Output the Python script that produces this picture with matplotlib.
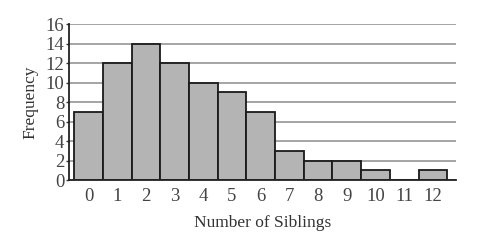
import matplotlib
matplotlib.use("Agg")
import matplotlib.pyplot as plt

siblings = [0, 1, 2, 3, 4, 5, 6, 7, 8, 9, 10, 11, 12]
frequency = [7, 12, 14, 12, 10, 9, 7, 3, 2, 2, 1, 0, 1]
y_ticks = [0, 2, 4, 6, 8, 10, 12, 14, 16]

plt.rcParams['font.family'] = ['Liberation Serif', 'DejaVu Serif']

fig = plt.figure(figsize=(4.85, 2.41), dpi=100)
ax = fig.add_axes([0.1423, 0.2531, 0.7977, 0.6473])

ax.set_axisbelow(True)
ax.yaxis.grid(True, color='#8c8c8c', linewidth=1.1)
ax.bar(siblings, frequency, width=1.0, color='#b4b4b4', edgecolor='#1a1a1a', linewidth=1.3, zorder=2)

ax.set_xlim(-0.68, 12.8)
ax.set_ylim(0, 16)
ax.set_yticks(y_ticks)
ax.set_xticks(siblings)
ax.tick_params(axis='y', length=2.5, width=1, labelsize=13.5, pad=1, colors='#333333')
ax.tick_params(axis='x', length=0, labelsize=13.5, pad=6, colors='#333333')
for lab in ax.get_yticklabels() + ax.get_xticklabels():
    lab.set_color('#444444')

for s in ['top', 'right']:
    ax.spines[s].set_visible(False)
ax.spines['left'].set_linewidth(1.3)
ax.spines['bottom'].set_linewidth(1.3)
ax.spines['left'].set_color('#222222')
ax.spines['bottom'].set_color('#222222')

ax.set_ylabel('Frequency', fontsize=12.5, color='#333333', labelpad=5)
ax.set_xlabel('Number of Siblings', fontsize=12.5, color='#333333', labelpad=7)

fig.savefig('out.png', dpi=100)
